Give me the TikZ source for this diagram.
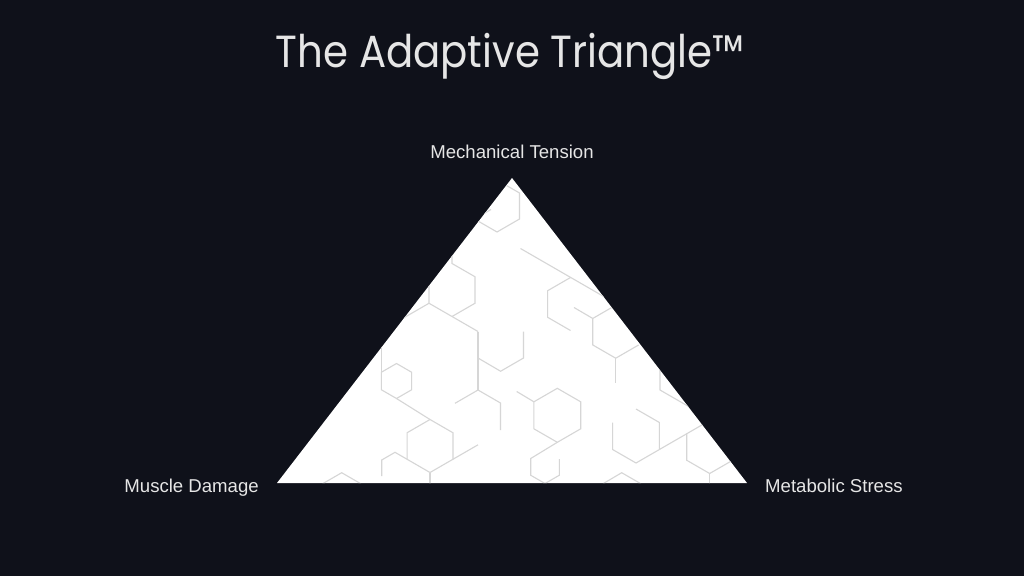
\documentclass[tikz,border=0pt]{standalone}
\usepackage{fontspec}
\setmainfont{Liberation Sans}
\newfontfamily\titlefont{Poppins}
\definecolor{bgc}{HTML}{0F111A}
\definecolor{txtc}{HTML}{E6E6E6}
\definecolor{hexc}{HTML}{D6D6D6}
\tikzset{
  hexline/.style={draw=hexc, line width=1.1pt, line join=miter},
  corner/.style={text=txtc, font=\fontsize{18.6}{21}\selectfont, inner sep=0pt},
  heading/.style={text=txtc, font=\titlefont\fontsize{45}{50}\selectfont, inner sep=0pt}
}
\begin{document}
\begin{tikzpicture}[x=1pt,y=-1pt]
\useasboundingbox (0,0) rectangle (1024,576);
\fill[bgc] (0,0) rectangle (1024,576);
\node[heading, anchor=base] (title) at (510,67) {\scalebox{0.895}[1]{The Adaptive Triangle™}};
\coordinate (apex) at (512,178);
\coordinate (bl) at (277,483);
\coordinate (br) at (747,483);
\fill[white] (apex) -- (bl) -- (br) -- cycle;
\begin{scope}
\clip (apex) -- (bl) -- (br) -- cycle;
% H1
\draw[hexline] (497,180) -- (519.5,193) -- (519.5,219) -- (497,232) -- (474.5,219) -- (491,209.5);
% H7
\draw[hexline] (452,245) -- (452,263.5) -- (475,276.75) -- (475,303.25) -- (452,316.5);
\draw[hexline] (429,276.75) -- (429,303.25) -- (452,316.5) -- (478,331.5);
\draw[hexline] (429,303.25) -- (400,320);
% H4
\draw[hexline] (478,331.5) -- (478,390);
\draw[hexline] (478,358) -- (500.6,371.25) -- (523.5,358) -- (523.5,331.5);
% H12
\draw[hexline] (455,403.3) -- (478,390) -- (500.5,403) -- (500.5,430);
% H5
\draw[hexline] (396.5,363.5) -- (411.65,372.25) -- (411.65,389.75) -- (396.5,398.5) -- (381.35,389.75) -- (381.35,372.25) -- cycle;
\draw[hexline] (381.35,372.25) -- (381.35,335);
\draw[hexline] (396.5,398.5) -- (430,419.5);
% H6
\draw[hexline] (430,419.5) -- (452.95,432.75) -- (452.95,459.25) -- (430,472.5) -- (407.05,459.25) -- (407.05,432.75) -- cycle;
\draw[hexline] (452.95,459.25) -- (478,444.8);
\draw[hexline] (430,472.5) -- (430,490);
\draw[hexline] (381.7,476) -- (381.7,460) -- (395,452.3) -- (407.05,459.25);
\draw[hexline] (318.7,486) -- (341.7,472.7) -- (364.7,486);
% L1 and H2
\draw[hexline] (520.5,248.5) -- (625,308.8);
\draw[hexline] (570.5,277.5) -- (547.55,290.75) -- (547.55,317.25) -- (570.5,330.5);
% H3
\draw[hexline] (574,307.5) -- (592.75,318.45);
\draw[hexline] (615.7,305.2) -- (592.75,318.45) -- (592.75,344.95) -- (615.7,358.2) -- (638.65,344.95);
\draw[hexline] (615.7,358.2) -- (615.7,383.3);
% H8
\draw[hexline] (557.3,388.3) -- (580.7,401.8) -- (580.7,428.8) -- (557.3,442.3) -- (533.9,428.8) -- (533.9,401.8) -- cycle;
\draw[hexline] (533.9,401.8) -- (516.7,391.5);
\draw[hexline] (557.3,442.3) -- (530.7,458.5) -- (530.7,475.25) -- (545,483.5) -- (559.3,475.25) -- (559.3,459);
% H10
\draw[hexline] (636,409) -- (659.4,422.5) -- (659.4,449.5) -- (636,463) -- (612.6,449.5) -- (612.6,422.5);
\draw[hexline] (659.4,449.5) -- (709.65,420.5);
\draw[hexline] (686.7,433.75) -- (686.7,460.25) -- (709.65,473.5) -- (735,458.9);
\draw[hexline] (709.65,473.5) -- (709.65,490);
\draw[hexline] (660,360) -- (660,390) -- (690,407.3);
\draw[hexline] (600,485.5) -- (621.7,472.7) -- (643,485);
\end{scope}
\node[corner, anchor=base] (mt) at (512,158) {Mechanical Tension};
\node[corner, anchor=base east] (md) at (259,492) {Muscle Damage};
\node[corner, anchor=base west] (ms) at (765,492) {Metabolic Stress};
\end{tikzpicture}
\end{document}
